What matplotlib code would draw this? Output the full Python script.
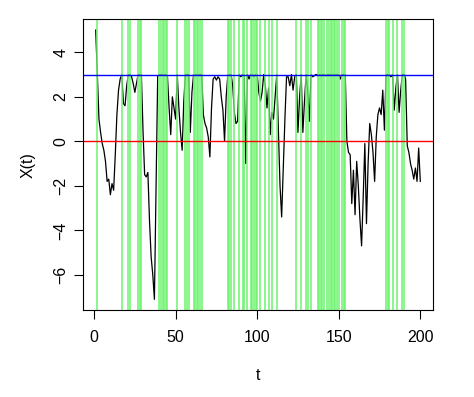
import numpy as np
import matplotlib
matplotlib.use("Agg")
import matplotlib.pyplot as plt

plt.rcParams['font.family'] = ['Liberation Sans', 'DejaVu Sans']

# series X(t), t = 1..200
x_vals = [
    5.0, 3.0, 1.0, 0.4, -0.1, -0.4, -0.9, -1.8, -1.7, -2.4,
    -1.9, -2.2, -0.6, 1.2, 2.3, 2.8, 3.0, 1.7, 1.6, 2.5,
    3.0, 3.0, 2.9, 2.6, 2.2, 2.6, 3.0, 3.0, 3.0, 0.5,
    -1.5, -1.6, -1.4, -3.6, -5.2, -6.0, -7.1, -2.0, 2.9, 3.0,
    3.0, 3.0, 3.0, 3.0, 2.9, 1.5, 0.3, 2.0, 1.5, 1.0,
    3.0, 1.5, 0.4, -0.4, 1.8, 3.0, 3.0, 3.0, 0.4, 2.2,
    3.0, 3.0, 3.0, 3.0, 3.0, 3.0, 1.2, 0.8, 0.6, 0.2,
    -0.7, 1.5, 2.8, 2.9, 2.75, 2.9, 2.8, 2.0, 1.4, 0.0,
    2.0, 3.0, 3.0, 3.0, 2.5, 1.3, 0.8, 0.9, 3.0, 2.9,
    3.0, 3.0, -1.0, 3.0, 2.8, 3.0, 3.0, 2.9, 3.0, 3.0,
    2.2, 1.8, 2.2, 3.0, 2.5, 1.5, 2.4, 0.3, 1.3, 1.0,
    2.0, 3.0, 0.5, -2.0, -3.4, -1.2, 1.0, 2.9, 2.9, 2.5,
    3.0, 2.3, 2.9, 3.0, 0.4, 2.0, 3.0, 0.4, 1.8, 3.0,
    2.2, 0.9, 3.0, 2.9, 2.95, 3.0, 3.0, 3.0, 3.0, 3.0,
    3.0, 2.95, 3.0, 3.0, 3.0, 3.0, 3.0, 3.0, 3.0, 3.0,
    2.8, 3.0, 3.0, 3.0, 0.0, -0.5, -0.6, -2.8, -1.3, -3.3,
    -0.9, -2.0, -3.5, -4.7, -2.5, -0.1, -3.7, -1.0, 0.8, 0.3,
    -0.5, -1.8, 0.2, 1.2, 1.5, 1.2, 2.3, 0.5, 3.0, 3.0,
    3.0, 2.9, 3.0, 1.4, 2.4, 3.0, 1.3, 2.3, 3.0, 3.0,
    2.8, -0.2, -0.5, -1.0, -1.3, -1.7, -1.2, -1.8, -0.3, -1.8,
]
t = np.arange(1, len(x_vals) + 1)

# times marked with green vertical lines
green_t = [2, 17, 21, 22, 27, 28, 29, 40, 41, 42, 43, 44, 45, 51, 56, 57, 58,
           61, 62, 63, 64, 65, 66, 82, 83, 84, 86, 89, 91, 92, 94, 96, 97, 98,
           99, 100, 102, 105, 107, 109, 112, 124, 127, 130, 131, 133, 137, 138,
           139, 140, 141, 143, 144, 145, 146, 147, 148, 149, 150, 152, 153, 154,
           179, 180, 181, 183, 186, 189, 190]

upper_level = 3
zero_level = 0

fig = plt.figure(figsize=(4.74, 3.97), dpi=100)
ax = fig.add_axes([0.1745, 0.219, 0.7396, 0.7324])

ax.plot(t, x_vals, color='black', lw=0.9)
for g in green_t:
    ax.axvline(g, color='#6cf46c', lw=1.1)
ax.axhline(upper_level, color='blue', lw=1.0)
ax.axhline(zero_level, color='red', lw=1.0)

# R-style 4% padding
xr = t.max() - t.min()
yr = max(x_vals) - min(x_vals)
ax.set_xlim(t.min() - 0.04 * xr, t.max() + 0.04 * xr)
ax.set_ylim(min(x_vals) - 0.04 * yr, max(x_vals) + 0.04 * yr)

ax.set_xticks([0, 50, 100, 150, 200])
ax.set_yticks([-6, -4, -2, 0, 2, 4])
ax.tick_params(direction='out', length=6.5, width=0.8, labelsize=11.5, pad=8)
ax.tick_params(axis='y', pad=4)
for lab in ax.get_yticklabels():
    lab.set_rotation(90)
    lab.set_va('center')
for s in ax.spines.values():
    s.set_linewidth(0.8)

ax.set_xlabel('t', fontsize=11.5)
ax.xaxis.set_label_coords(0.5, -0.2)
ax.set_ylabel('X(t)', fontsize=11.5)
ax.yaxis.set_label_coords(-0.135, 0.5)

fig.savefig('out.png', dpi=100)
